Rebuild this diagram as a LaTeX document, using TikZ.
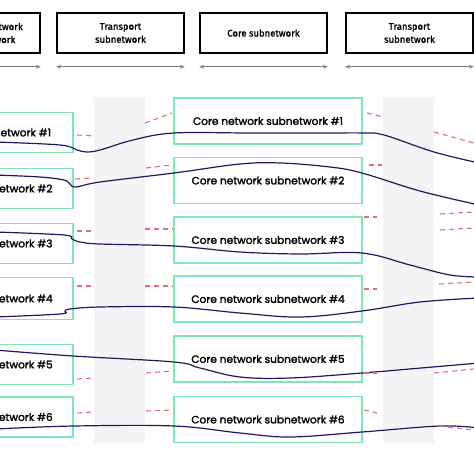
\documentclass[tikz,border=0pt]{standalone}
\usepackage{fontspec}
\setmainfont{Fira Sans}
\newfontfamily\headfont[FakeBold=1.5]{Fira Sans}
\newfontfamily\rowfont[FakeBold=2]{Poppins}
\usetikzlibrary{arrows.meta}

\definecolor{netblue}{HTML}{1E1A5E}
\definecolor{linkred}{HTML}{E07078}
\definecolor{boxgreen}{HTML}{7EE8B2}
\definecolor{bandgray}{HTML}{F5F3F6}

\tikzset{
  topbox/.style={draw, line width=1.6pt, minimum width=127pt, minimum height=40pt, align=center, font=\headfont\fontsize{9.5}{13}\selectfont},
  span/.style={draw=gray, line width=1pt, {Stealth[length=5pt, width=4pt]}-{Stealth[length=5pt, width=4pt]}},
  netbox/.style={draw=boxgreen, line width=1.6pt, minimum height=40pt, font=\rowfont\fontsize{10.6}{12}\selectfont},
  corebox/.style={netbox, minimum width=188pt, minimum height=46pt},
  route/.style={netblue, line width=1.2pt},
  link/.style={linkred, line width=1.1pt, dash pattern=on 5pt off 4pt}
}

\begin{document}
\begin{tikzpicture}[x=1pt, y=-1pt]
\useasboundingbox (0,0) rectangle (474,474);
\clip (0,0) rectangle (474,474);

\fill[bandgray] (94,97) rectangle (145,443);
\fill[bandgray] (383,97) rectangle (434,443);

\node[topbox, minimum width=100pt] (t1) at (-10,33) {Access network\\subnetwork};
\node[topbox] (t2) at (120.5,33) {Transport\\subnetwork};
\node[topbox] (t3) at (263.5,33) {Core subnetwork};
\node[topbox] (t4) at (409.5,33) {Transport\\subnetwork};

\draw[span] ([yshift=-13pt]t1.south west) -- ([yshift=-13pt]t1.south east);
\draw[span] ([yshift=-13pt]t2.south west) -- ([yshift=-13pt]t2.south east);
\draw[span] ([yshift=-13pt]t3.south west) -- ([yshift=-13pt]t3.south east);
\draw[span] ([yshift=-13pt]t4.south west) -- ([yshift=-13pt]t4.south east);

\node[netbox, minimum width=142pt, anchor=east] (a1) at (74,132.5) {Access network \#1};
\node[netbox, minimum width=142pt, anchor=east] (a2) at (74,188.5) {Access network \#2};
\node[netbox, minimum width=142pt, anchor=east] (a3) at (74,243.5) {Access network \#3};
\node[netbox, minimum width=142pt, anchor=east, minimum height=42pt] (a4) at (74,298.5) {Access network \#4};
\node[netbox, minimum width=142pt, anchor=east] (a5) at (74,364.5) {Access network \#5};
\node[netbox, minimum width=142pt, anchor=east] (a6) at (74,417) {Access network \#6};

\node[corebox] (c1) at (268,121) {Core network subnetwork \#1};
\node[corebox] (c2) at (268,180.5) {Core network subnetwork \#2};
\node[corebox] (c3) at (268,240) {Core network subnetwork \#3};
\node[corebox] (c4) at (268,299) {Core network subnetwork \#4};
\node[corebox] (c5) at (268,359) {Core network subnetwork \#5};
\node[corebox] (c6) at (268,419.5) {Core network subnetwork \#6};

\draw[route] plot[smooth, tension=0.6] coordinates {(-5,142) (60,145) (77,150) (87,152) (100,150) (133,140) (174,133) (250,133) (330,133) (362,133) (384,135) (434,152) (479,163)};
\draw[route] plot[smooth, tension=0.6] coordinates {(-5,175) (40,177) (64,180) (70,184) (76,187) (100,182) (174,173) (240,164) (281,163) (330,167) (362,173) (420,191) (479,205)};
\draw[route] plot[smooth, tension=0.6] coordinates {(-5,232) (64,235) (72,239) (80,242) (100,244) (174,246) (240,252) (300,254) (362,253) (410,265) (450,275) (479,277)};
\draw[route] plot[smooth, tension=0.6] coordinates {(-5,317) (60,314) (65,311) (70,309) (100,307) (174,307) (240,313) (300,317) (362,311) (420,302) (479,298)};
\draw[route] plot[smooth, tension=0.6] coordinates {(-5,350) (73,356) (174,362) (200,368) (240,377) (290,378) (362,373) (421,368) (479,363)};
\draw[route] plot[smooth, tension=0.6] coordinates {(-5,429) (74,426) (174,426) (240,433) (290,437) (362,432) (440,426) (479,428)};

\draw[link] (77,135) -- (95,136);
\draw[link] (145,123) -- (172,113);
\draw[link] (75,179) -- (92,178);
\draw[link] (146,168) -- (172,165);
\draw[link] (77,231) -- (93,231);
\draw[link] (145,229) -- (173,229);
\draw[link] (77,286) -- (93,286);
\draw[link] (145,286) -- (173,286);
\draw[link] (77,379) -- (93,378);
\draw[link] (146,373) -- (173,371);
\draw[link] (77,413) -- (93,412);
\draw[link] (146,411) -- (173,410);

\draw[link] (367,113) -- (383,117);
\draw[link] (434,132) -- (474,143);
\draw[link] (369,165) -- (382,165);
\draw[link] (440,214) -- (474,212);
\draw[link] (364,217) -- (377,217);
\draw[link] (440,230) -- (474,228);
\draw[link] (364,289) -- (377,289);
\draw[link] (439,284) -- (474,282);
\draw[link] (364,373) -- (377,373);
\draw[link] (434,373) -- (474,369);
\draw[link] (364,410) -- (377,413);
\draw[link] (439,426) -- (474,430);
\end{tikzpicture}
\end{document}
